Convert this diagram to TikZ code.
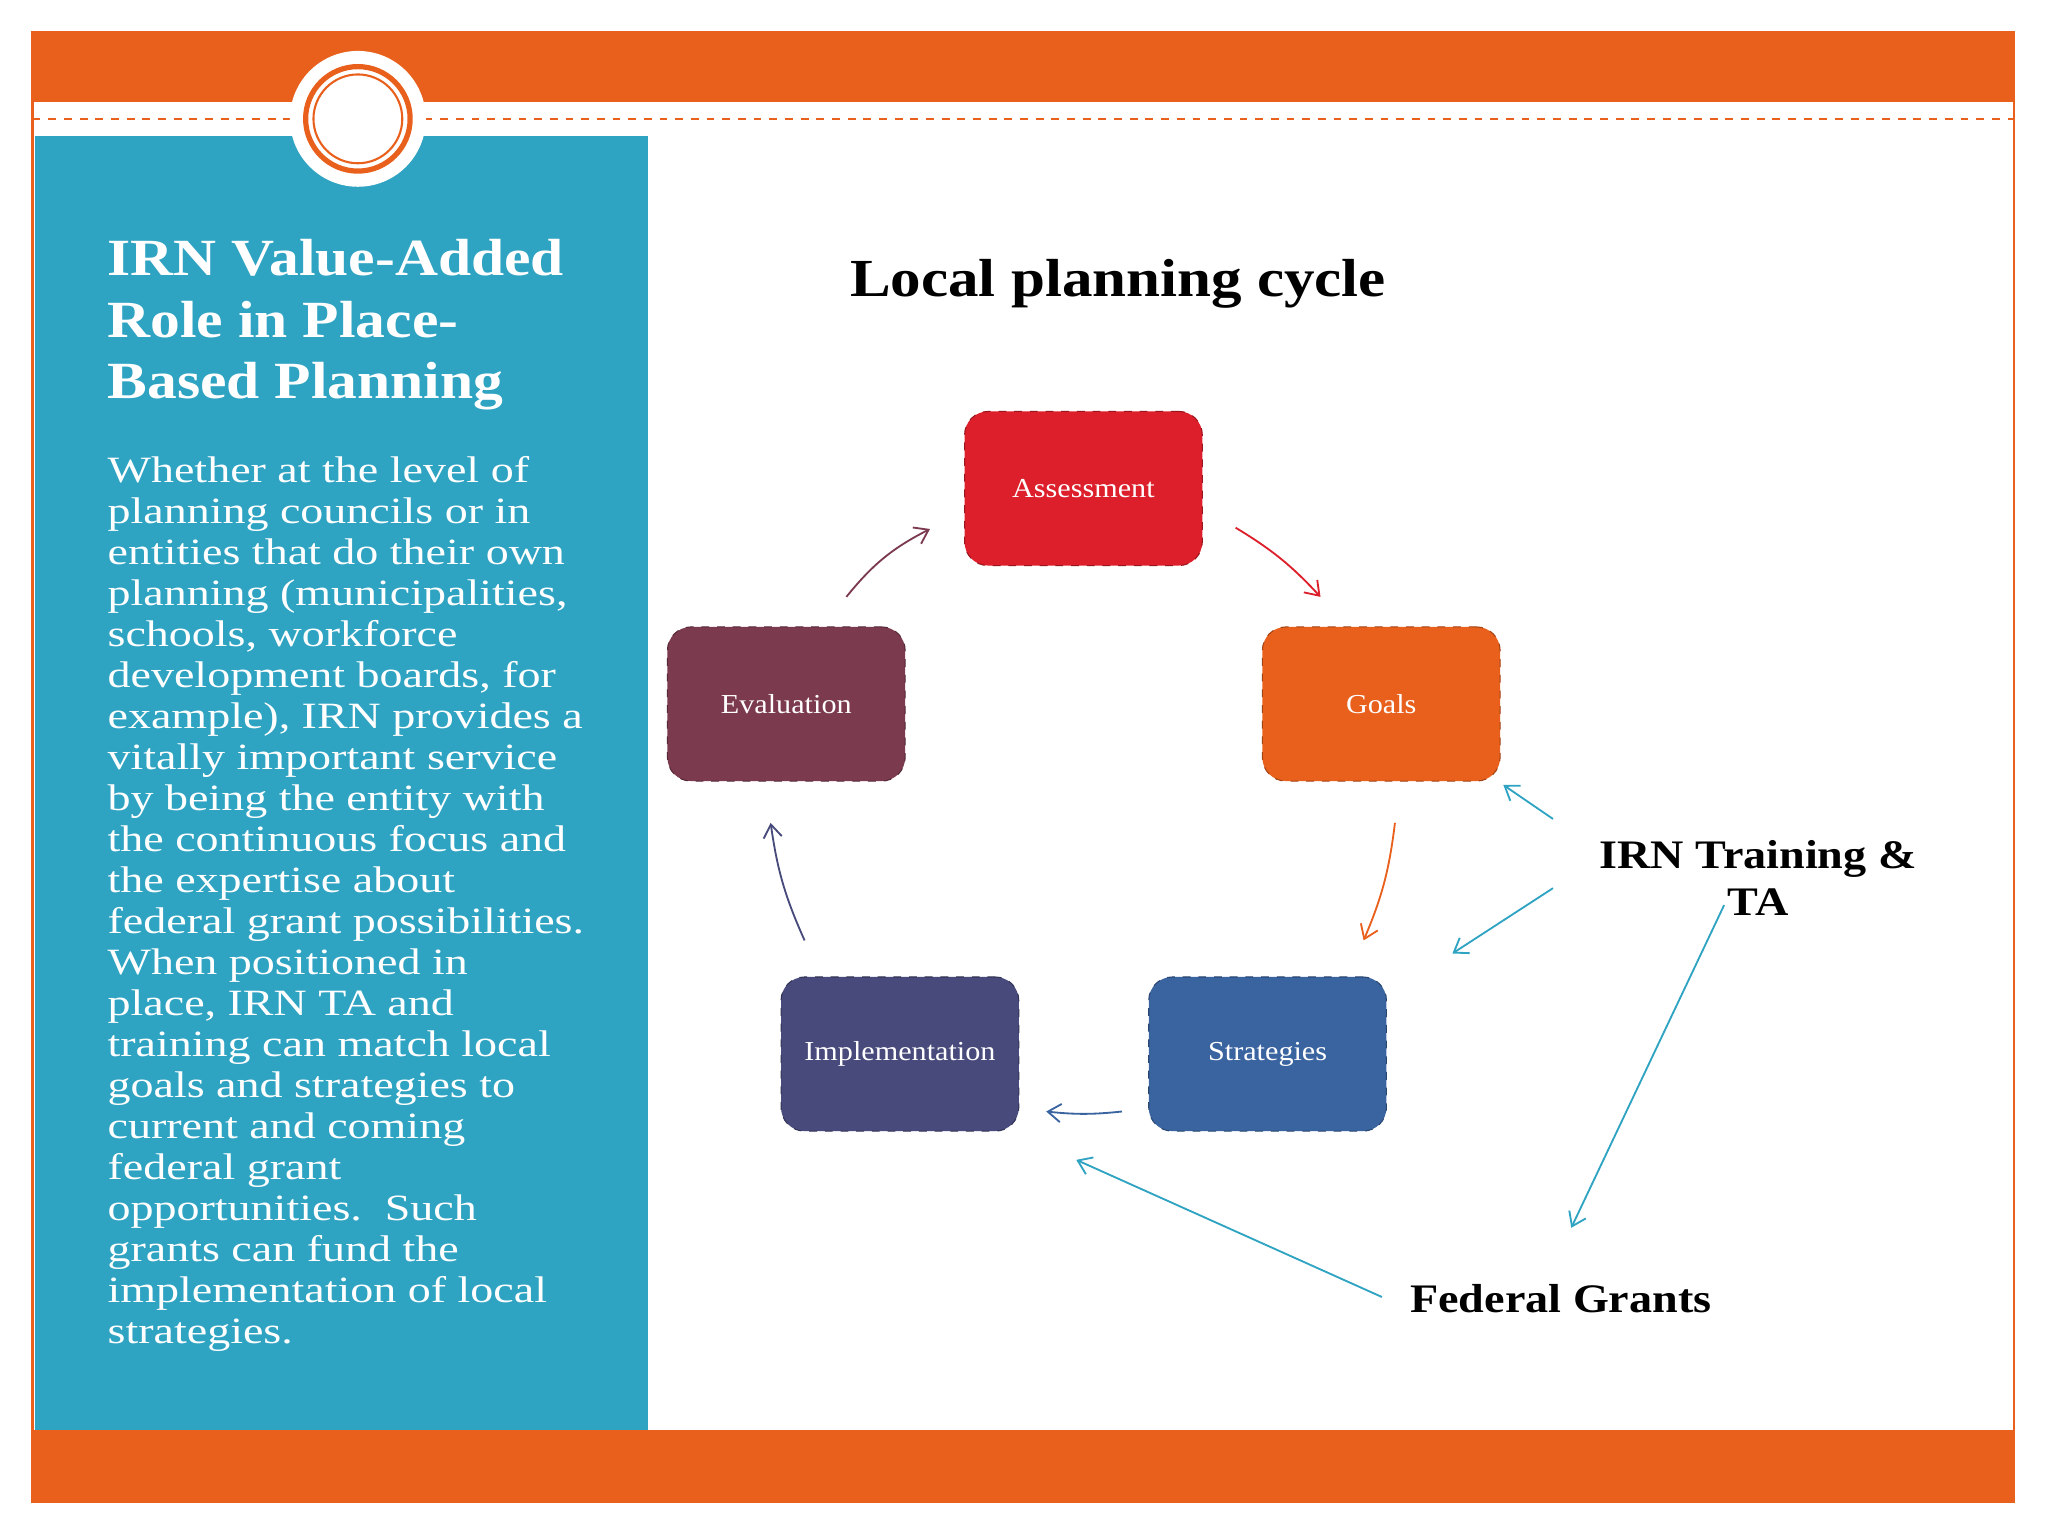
\documentclass[tikz,border=0pt]{standalone}
\usepackage{fontspec}
\setmainfont{Liberation Serif}
\newfontfamily\bodyfont[FakeStretch=1.24]{Liberation Serif}
\newfontfamily\headfont[FakeStretch=1.14]{Liberation Serif}
\newfontfamily\boxfont[FakeStretch=1.1]{Liberation Serif}
\usetikzlibrary{arrows.meta}
\definecolor{org}{HTML}{E8601C}
\definecolor{teal}{HTML}{2EA3C2}
\definecolor{cA}{HTML}{DC1F2B}
\definecolor{cG}{HTML}{E8601C}
\definecolor{cE}{HTML}{7B3A4E}
\definecolor{cI}{HTML}{474A7A}
\definecolor{cS}{HTML}{3A64A0}
\definecolor{ln}{HTML}{2EA3C2}
\tikzset{
 stepbox/.style={draw=#1!70!black,fill=#1,dashed,rounded corners=9pt,minimum width=91pt,minimum height=59pt,text=white,font=\boxfont\fontsize{10.5}{12}\selectfont},
 cyc/.style={-{Straight Barb[length=5pt,width=7pt]},line width=0.7pt},
}
\begin{document}
\begin{tikzpicture}[x=0.5pt,y=-0.5pt]
\useasboundingbox (0,0) rectangle (1568,1176);
\fill[white] (0,0) rectangle (1568,1176);
\draw[org,line width=1pt] (25,25) rectangle (1542,1150);
\fill[org] (25,25) rectangle (1542,78);
\fill[org] (25,1095) rectangle (1542,1150);
\draw[org,dashed,line width=0.8pt] (25,91) -- (1542,91);
\fill[teal] (27,104) rectangle (496,1095);
\fill[white] (274,91) circle (52);
\draw[org,line width=2pt] (274,91) circle (40);
\draw[org,line width=0.8pt] (274,91) circle (34);
\node[anchor=north west,text=white,font=\headfont\bfseries\fontsize{20}{23.5}\selectfont,align=left,inner sep=0pt] (title) at (82,183) {IRN Value-Added\\Role in Place-\\Based Planning};
\node[anchor=north west,text=white,font=\bodyfont\fontsize{14.2}{15.7}\selectfont,align=left,inner sep=0pt] (body) at (82,349) {Whether at the level of\\planning councils or in\\entities that do their own\\planning (municipalities,\\schools, workforce\\development boards, for\\example), IRN provides a\\vitally important service\\by being the entity with\\the continuous focus and\\the expertise about\\federal grant possibilities.\\When positioned in\\place, IRN TA and\\training can match local\\goals and strategies to\\current and coming\\federal grant\\opportunities.\ \ Such\\grants can fund the\\implementation of local\\strategies.};
\node[font=\headfont\bfseries\fontsize{20.5}{24}\selectfont] (head) at (856,217) {Local planning cycle};
\node[stepbox=cA] (A) at (829.5,374) {Assessment};
\node[stepbox=cG] (G) at (1057.5,539) {Goals};
\node[stepbox=cE] (E) at (602,539) {Evaluation};
\node[stepbox=cI] (I) at (689,807) {Implementation};
\node[stepbox=cS] (S) at (970.5,807) {Strategies};
\node[font=\headfont\bfseries\fontsize{15.5}{18}\selectfont,align=center] (irn) at (1346,672) {IRN Training \&\\TA};
\node[font=\headfont\bfseries\fontsize{15.5}{18}\selectfont] (fed) at (1195,994) {Federal Grants};
\coordinate (e1) at (648,457); \coordinate (e2) at (712,405);
\coordinate (a1) at (946,404); \coordinate (a2) at (1011,457);
\coordinate (g1) at (1068,630); \coordinate (g2) at (1044,720);
\coordinate (s1) at (859,851); \coordinate (s2) at (801,851);
\coordinate (i1) at (616,720); \coordinate (i2) at (590,630);
\coordinate (t1) at (1189,627); \coordinate (t2) at (1151,601);
\coordinate (t3) at (1189,680); \coordinate (t4) at (1112,730);
\coordinate (t5) at (1320,693); \coordinate (t6) at (1203,940);
\coordinate (f1) at (1058,993); \coordinate (f2) at (824,888);
\draw[cyc,cE] (e1) to[bend left=12] (e2);
\draw[cyc,cA] (a1) to[bend left=8] (a2);
\draw[cyc,cG] (g1) to[bend left=8] (g2);
\draw[cyc,cS] (s1) to[bend left=6] (s2);
\draw[cyc,cI] (i1) to[bend left=8] (i2);
\draw[cyc,ln] (t1) -- (t2);
\draw[cyc,ln] (t3) -- (t4);
\draw[cyc,ln] (t5) -- (t6);
\draw[cyc,ln] (f1) -- (f2);
\end{tikzpicture}
\end{document}
